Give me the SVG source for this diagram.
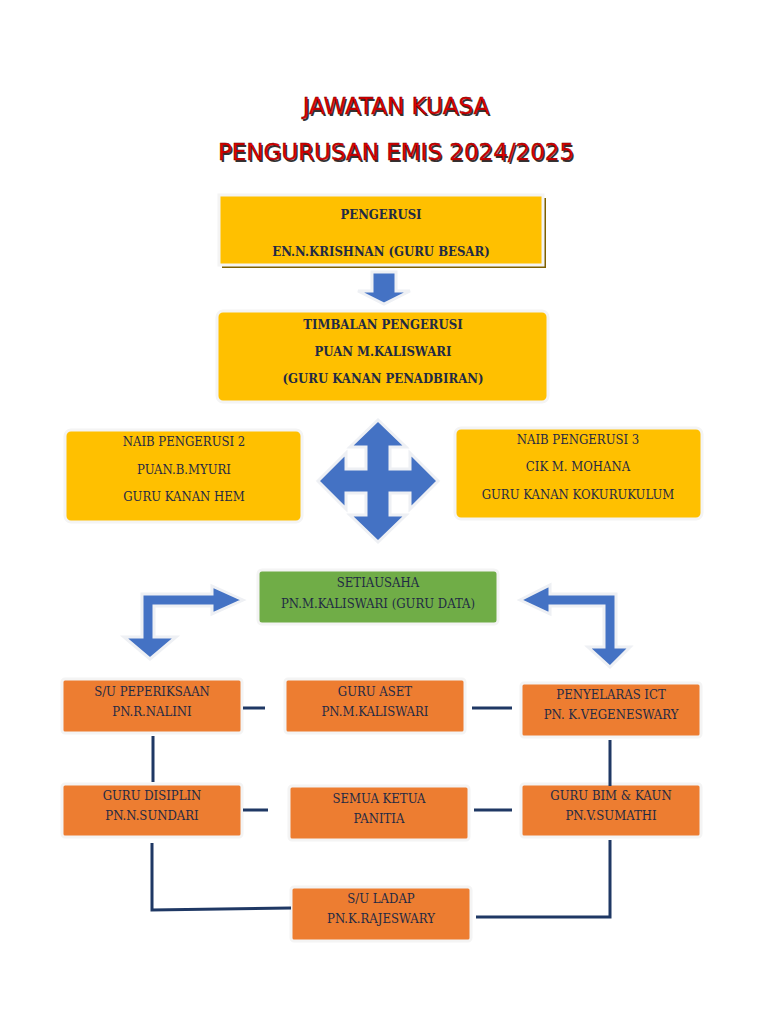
<svg xmlns="http://www.w3.org/2000/svg" width="768" height="1024" viewBox="0 0 768 1024">
<defs>
<style>
.t{font-family:"DejaVu Sans",sans-serif;font-size:23px;fill:#e00000;text-anchor:middle;stroke:#600;stroke-width:0.4}
.s{font-family:"DejaVu Serif Condensed","DejaVu Serif",serif;font-size:13px;fill:#1f2a44;text-anchor:middle}
.b{font-weight:bold}
.y{fill:#ffc000;stroke:#f4f4f4;stroke-width:3}
.o{fill:#ed7d31;stroke:#f4f4f4;stroke-width:3}
.ar{fill:#4472c4;stroke:#eef0f4;stroke-width:3}
.c{fill:none;stroke:#1f3864;stroke-width:3}
</style>
</defs>
<rect width="768" height="1024" fill="#fff"/>
<g id="title">
<text class="t" x="396" y="114" fill-opacity="1" style="fill:#333;stroke:none" dx="1.5" dy="1.5">JAWATAN KUASA</text>
<text class="t" x="396" y="114">JAWATAN KUASA</text>
<text class="t" x="396" y="160" style="fill:#333;stroke:none" dx="1.5" dy="1.5">PENGURUSAN EMIS 2024/2025</text>
<text class="t" x="396" y="160">PENGURUSAN EMIS 2024/2025</text>
</g>
<g id="pengerusi">
<rect x="222" y="198" width="324" height="70" fill="#7f6000"/>
<rect x="219" y="195" width="324" height="70" class="y"/>
<text class="s b" x="381" y="219" font-size="14">PENGERUSI</text>
<text class="s b" x="381" y="256" font-size="14">EN.N.KRISHNAN (GURU BESAR)</text>
</g>
<g id="arrow-down">
<polygon class="ar" points="372,272 396,272 396,291 410,291 384,304 358,291 372,291"/>
</g>
<g id="timbalan">
<rect x="217" y="311" width="331" height="91" rx="6" class="y"/>
<text class="s b" x="383" y="329">TIMBALAN PENGERUSI</text>
<text class="s b" x="383" y="356">PUAN M.KALISWARI</text>
<text class="s b" x="383" y="383">(GURU KANAN PENADBIRAN)</text>
</g>
<g id="naib2">
<rect x="65" y="430" width="237" height="92" rx="6" class="y"/>
<text class="s" x="184" y="446">NAIB PENGERUSI 2</text>
<text class="s" x="184" y="474">PUAN.B.MYURI</text>
<text class="s" x="184" y="501">GURU KANAN HEM</text>
</g>
<g id="naib3">
<rect x="455" y="428" width="247" height="91" rx="6" class="y"/>
<text class="s" x="578" y="444">NAIB PENGERUSI 3</text>
<text class="s" x="578" y="471">CIK M. MOHANA</text>
<text class="s" x="578" y="499">GURU KANAN KOKURUKULUM</text>
</g>
<g id="cross-arrow">
<polygon class="ar" points="378,420 406,447 390,447 390,469 410,469 410,453 438,481 410,509 410,493 390,493 390,515 406,515 378,542 350,515 366,515 366,493 346,493 346,509 318,481 346,453 346,469 366,469 366,447 350,447"/>
</g>
<g id="setiausaha">
<rect x="258" y="570" width="240" height="54" rx="4" fill="#70ad47" stroke="#f4f4f4" stroke-width="3"/>
<text class="s" x="378" y="587">SETIAUSAHA</text>
<text class="s" x="378" y="608">PN.M.KALISWARI (GURU DATA)</text>
</g>
<g id="bent-arrows">
<polygon class="ar" points="243,600 212,586 212,594 142,594 142,637 124,637 150,659 176,637 154,637 154,606 212,606 212,614"/>
<polygon class="ar" points="520,600 550,585 550,594 616,594 616,647 630,647 610,667 588,647 604,647 604,606 550,606 550,614"/>
</g>
<g id="su-peperiksaan"><rect x="62" y="679" width="180" height="54" rx="3" class="o"/>
<text class="s" x="152" y="696">S/U PEPERIKSAAN</text><text class="s" x="152" y="716">PN.R.NALINI</text></g>
<g id="guru-aset"><rect x="285" y="679" width="180" height="54" rx="3" class="o"/>
<text class="s" x="375" y="696">GURU ASET</text><text class="s" x="375" y="716">PN.M.KALISWARI</text></g>
<g id="penyelaras"><rect x="521" y="683" width="180" height="54" rx="3" class="o"/>
<text class="s" x="611" y="699">PENYELARAS ICT</text><text class="s" x="611" y="719">PN. K.VEGENESWARY</text></g>
<g id="guru-disiplin"><rect x="62" y="784" width="180" height="53" rx="3" class="o"/>
<text class="s" x="152" y="800">GURU DISIPLIN</text><text class="s" x="152" y="820">PN.N.SUNDARI</text></g>
<g id="semua-ketua"><rect x="289" y="786" width="180" height="54" rx="3" class="o"/>
<text class="s" x="379" y="803">SEMUA KETUA</text><text class="s" x="379" y="823">PANITIA</text></g>
<g id="guru-bim"><rect x="521" y="784" width="180" height="53" rx="3" class="o"/>
<text class="s" x="611" y="800">GURU BIM &amp; KAUN</text><text class="s" x="611" y="820">PN.V.SUMATHI</text></g>
<g id="su-ladap"><rect x="291" y="887" width="180" height="54" rx="3" class="o"/>
<text class="s" x="381" y="903">S/U LADAP</text><text class="s" x="381" y="923">PN.K.RAJESWARY</text></g>
<g id="connectors">
<path class="c" d="M243 708H265M472 708H512M153 736V782M610 740V786M243 810H268M474 810H512M152 843V910L291 908M610 840V917H476"/>
</g>
</svg>
